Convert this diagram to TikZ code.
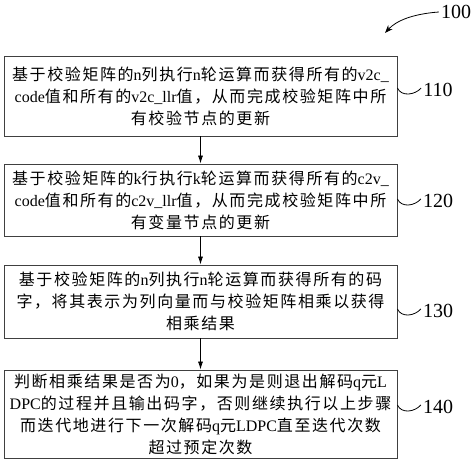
\documentclass[tikz,border=0pt]{standalone}
\usepackage{fontspec}
\setmainfont{Liberation Serif}
\newfontfamily\cjk[LetterSpace=10]{Noto Sans CJK SC}
\newcommand\C[1]{{\cjk #1}}
\usetikzlibrary{arrows.meta}
\tikzset{
  stepbox/.style={draw=black!75, line width=0.8pt, minimum width=393pt, text width=389pt,
    inner xsep=2pt, inner ysep=0pt, align=center, font=\fontsize{16pt}{22pt}\selectfont},
  flow/.style={draw=black, line width=0.8pt, -{Latex[length=8pt,width=5pt]}},
  reflabel/.style={font=\fontsize{20pt}{24pt}\selectfont, inner sep=2pt},
  wave/.style={draw=black, line width=0.8pt}
}
\begin{document}
\begin{tikzpicture}[x=1pt,y=-1pt]
\useasboundingbox (0,0) rectangle (474,462);
\node[stepbox, minimum height=80pt] (b1) at (200.5,96) {%
\C{基于校验矩阵的}n\C{列执行}n\C{轮运算而获得所有的}v2c\_\\
code\C{值和所有的}v2c\_llr\C{值，从而完成校验矩阵中所}\\
\C{有校验节点的更新}};
\node[stepbox, minimum height=72pt] (b2) at (200.5,200) {%
\C{基于校验矩阵的}k\C{行执行}k\C{轮运算而获得所有的}c2v\_\\
code\C{值和所有的}c2v\_llr\C{值，从而完成校验矩阵中所}\\
\C{有变量节点的更新}};
\node[stepbox, minimum height=73pt] (b3) at (200.5,301.5) {%
\C{基于校验矩阵的}n\C{列执行}n\C{轮运算而获得所有的码}\\
\C{字，将其表示为列向量而与校验矩阵相乘以获得}\\
\C{相乘结果}};
\node[stepbox, minimum height=88pt] (b4) at (200.5,414) {%
\C{判断相乘结果是否为}0\C{，如果为是则退出解码}q\C{元}L\\
DPC\C{的过程并且输出码字，否则继续执行以上步骤}\\
\C{而迭代地进行下一次解码}q\C{元}LDPC\C{直至迭代次数}\\
\C{超过预定次数}};

\draw[flow] (b1.south) -- (b2.north);
\draw[flow] (b2.south) -- (b3.north);
\draw[flow] (b3.south) -- (b4.north);

\node[reflabel] (l0) at (456,12) {100};
\coordinate (c0) at (385,33);
\draw[line width=0.8pt, -{Stealth[length=8pt,width=6pt]}] (l0.west) .. controls (412,14) and (396,21) .. (c0);

\node[reflabel] (l1) at (438,90) {110};
\node[reflabel] (l2) at (438,201) {120};
\node[reflabel] (l3) at (438,311) {130};
\node[reflabel] (l4) at (438,407) {140};
\foreach \b/\l in {b1/l1,b2/l2,b3/l3,b4/l4}{
  \draw[wave] ([yshift=2pt]\b.east |- \l) .. controls +(4,9) and +(-6,7) .. ([yshift=2pt]\l.west);
}
\end{tikzpicture}
\end{document}
